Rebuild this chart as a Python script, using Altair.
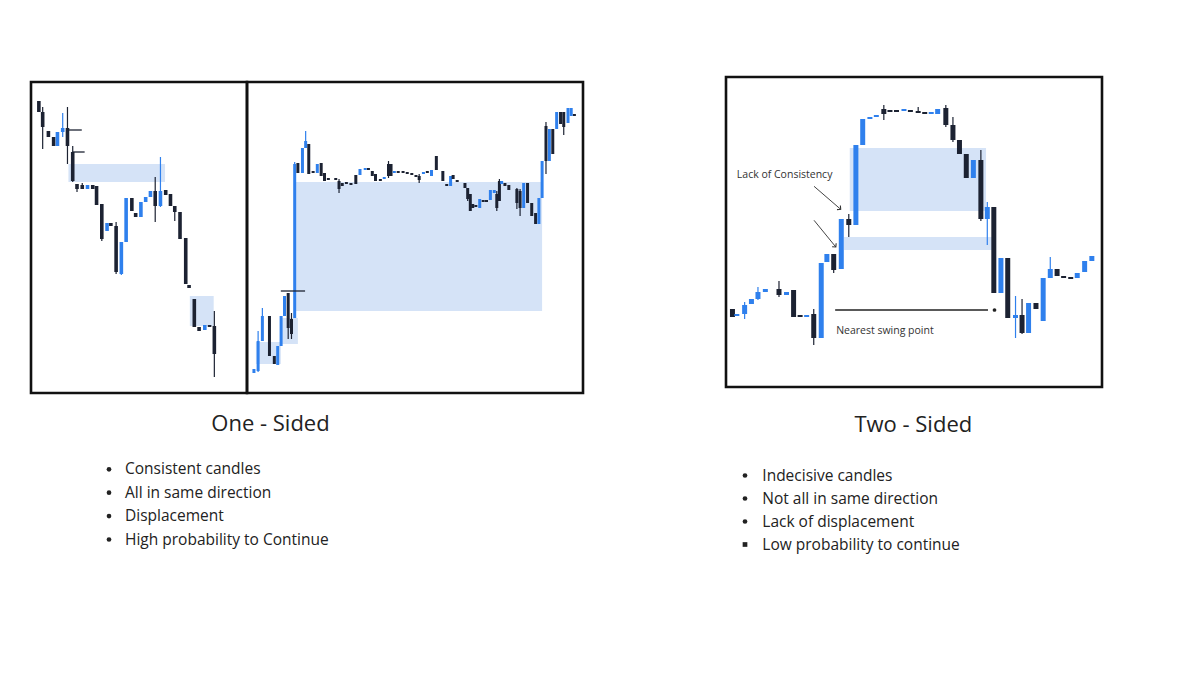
import altair as alt
import pandas as pd

# ---------------- colours & fonts ----------------
DARK = "#1c2232"
BLUE = "#2f80ed"
BOX = "#d5e3f7"
FRAME = "#111111"
INK = "#222222"
FONT = "Open Sans"

# ---------------- Panel A (one-sided, left) ----------------
A_T = [33, 37, 43, 48.5, 52.5, 58, 63, 68.5, 73, 78.5, 84, 89.5, 93.5, 99, 104.5, 108.5, 114, 119.5, 124.5, 130.5,
       134.5, 140, 145, 150, 155, 160.5, 166, 171, 175.5, 181, 187, 190.5, 196, 201, 207, 212, 217]
A_OPEN = [300, 289, 270, 264, 255, 269, 273, 249, 217, 216, 212, 216, 215, 197, 170, 178, 175, 127, 159, 203,
          188, 184, 199, 204, 210, 195, 211, 207, 195, 189, 163, 116, 102, 74, 71, 76, 75]
A_HIGH = [300, 294, 270, 264, 269, 288, 294, 255, 217, 218, 216, 216, 215, 197, 178, 178, 179, 159, 203, 203,
          188, 199, 204, 210, 224, 244, 211, 207, 195, 189, 163, 116, 102, 74, 76, 76, 90]
A_LOW = [289, 252, 264, 255, 255, 264, 237, 219, 209, 212, 212, 212, 196, 160, 170, 175, 127, 126, 159, 190,
         184, 184, 199, 204, 179, 194, 206, 195, 180, 162, 117, 113, 74, 70, 71, 74, 24]
A_CLOSE = [289, 274, 264, 255, 269, 273, 255, 220, 212, 212, 216, 212, 196, 162, 178, 175, 129, 159, 203, 190,
           184, 199, 204, 210, 195, 210, 206, 195, 189, 162, 117, 113, 74, 70, 76, 74, 47]
A_BOX_T0 = [64, 191.3]
A_BOX_T1 = [165.3, 216.3]
A_BOX_P0 = [219, 75]
A_BOX_P1 = [237, 105]
A_LVL_T0 = [63, 68.5]
A_LVL_T1 = [78, 81]
A_LVL_P = [271, 249]

# ---------------- Panel B (one-sided, right) ----------------
B_T = [248, 252.3, 256.7, 264, 269, 272.5, 276, 279.5, 283.3, 286.7,
       290, 293.3, 298, 301.3, 304.5, 309, 313.3, 317.3, 320.7, 324.7,
       332.3, 335.7, 339, 343.3, 348, 353, 357.3, 362.7, 366, 370,
       373.3, 378.3, 382.3, 386.7, 389.3, 392.7, 396.7, 401.7, 406, 410.7,
       415, 418.3, 422.7, 426.7, 431, 436, 442.7, 446.7, 450.7, 453.3,
       457.5, 465.5, 468.3, 471, 473.5, 476.7, 480.7, 484.3, 487.7, 491.7,
       495.7, 498.3, 501, 503.3, 506.7, 510.7, 519, 522.3, 526, 530,
       534.3, 538.3, 541.7, 545, 549, 552.5, 556, 560, 564, 567.3,
       571.7, 575, 578.3]
B_OPEN = [28, 30, 60, 85, 45, 36, 55, 85, 108, 82,
          83, 238, 228, 253, 257, 230, 228, 238, 228, 223,
          223, 220, 218, 219, 218, 226, 226, 231, 233, 230,
          227, 222, 222, 237, 237, 228, 230, 230, 229, 228,
          226, 225, 227, 230, 225, 245, 230, 217, 215, 226,
          221, 218, 213, 207, 197, 196, 193, 201, 201, 201,
          208, 207, 220, 217, 218, 216, 212, 210, 193, 218,
          198, 188, 177, 203, 275, 240, 272, 272, 289, 289,
          278, 285, 287]
B_HIGH = [32, 70, 93, 85, 45, 55, 85, 105, 108, 88,
          239, 238, 253, 270, 257, 230, 237, 238, 228, 223,
          223, 222, 218, 219, 218, 226, 232, 233, 233, 230,
          227, 222, 224, 240, 237, 230, 230, 230, 229, 228,
          226, 227, 229, 230, 231, 245, 230, 217, 225, 226,
          221, 218, 213, 207, 197, 196, 202, 201, 201, 211,
          211, 210, 222, 220, 218, 216, 213, 212, 218, 218,
          198, 188, 203, 240, 279, 272, 272, 289, 289, 289,
          293, 293, 287]
B_LOW = [28, 29, 60, 45, 37, 36, 55, 85, 62, 62,
         83, 228, 228, 253, 227, 228, 228, 225, 220, 221,
         221, 208, 215, 217, 216, 217, 226, 231, 231, 225,
         220, 220, 222, 223, 225, 228, 228, 228, 227, 226,
         224, 218, 227, 228, 225, 231, 220, 215, 215, 222,
         219, 213, 200, 190, 193, 194, 193, 199, 199, 201,
         208, 190, 200, 217, 215, 211, 192, 185, 193, 198,
         185, 177, 177, 203, 227, 240, 247, 272, 277, 266,
         278, 285, 285]
B_CLOSE = [32, 60, 85, 45, 37, 55, 85, 105, 73, 67,
           237, 228, 253, 260, 227, 228, 237, 225, 220, 221,
           221, 212, 215, 217, 216, 217, 232, 233, 231, 225,
           220, 220, 224, 225, 225, 230, 228, 228, 227, 226,
           224, 221, 229, 228, 231, 231, 220, 215, 225, 222,
           219, 213, 202, 190, 193, 194, 202, 199, 199, 211,
           211, 193, 200, 220, 215, 211, 198, 193, 218, 198,
           185, 177, 203, 240, 240, 272, 247, 289, 277, 274,
           293, 293, 285]
B_BOX_T0 = [290.7, 250, 275.7]
B_BOX_T1 = [545, 275.7, 293.3]
B_BOX_P0 = [90, 37, 57]
B_BOX_P1 = [219, 59, 83]
B_LVL_T0 = [275.7]
B_LVL_T1 = [300.7]
B_LVL_P = [110]

# ---------------- Panel C (two-sided) ----------------
C_T = [727.5, 732, 740, 747, 753.7, 761.3, 775.3, 783, 790.3, 797,
       803.7, 811, 818.7, 824.5, 831.5, 839.3, 847, 854.3, 861.3, 868.7,
       875.3, 883, 889.3, 896, 903.7, 910.3, 918.3, 925, 931.7, 938.3,
       946.7, 954, 960.7, 967.7, 975, 982.7, 989.3, 996, 1003.3, 1010.3,
       1018.3, 1025, 1031.7, 1039.3, 1046.7, 1054, 1061, 1067.7, 1075, 1081.7,
       1089.3, 1096.7]
C_OPEN = [91, 84, 86, 96, 101, 108, 111, 105, 110, 85,
          83, 86, 62, 138, 146, 131, 181, 175, 255, 281,
          283, 291, 290, 290, 289, 290, 289, 288, 286, 286,
          292, 275, 260, 246, 222, 240, 181, 193, 107, 142,
          82, 85, 67, 97, 79, 122, 131, 124, 123, 122,
          128, 139]
C_HIGH = [91, 86, 98, 101, 113, 111, 119, 108, 110, 85,
          85, 91, 137, 146, 146, 181, 186, 255, 281, 283,
          285, 295, 290, 290, 291, 290, 293, 288, 288, 291,
          295, 283, 260, 246, 240, 250, 198, 193, 142, 142,
          104, 101, 97, 97, 122, 143, 131, 124, 123, 127,
          139, 144]
C_LOW = [83, 84, 81, 96, 100, 108, 103, 105, 83, 83,
         83, 55, 62, 138, 127, 131, 163, 175, 255, 281,
         283, 280, 288, 288, 289, 288, 287, 286, 286, 286,
         273, 258, 246, 222, 222, 179, 155, 107, 107, 82,
         62, 66, 67, 91, 79, 122, 124, 122, 121, 122,
         128, 139]
C_CLOSE = [83, 86, 95, 101, 108, 111, 105, 108, 83, 83,
           85, 62, 137, 146, 130, 181, 175, 255, 281, 283,
           285, 286, 288, 288, 291, 288, 287, 286, 288, 291,
           275, 260, 246, 222, 240, 181, 193, 107, 142, 82,
           85, 67, 97, 91, 122, 131, 124, 122, 121, 127,
           139, 144]
C_BOX_T0 = [848, 842]
C_BOX_T1 = [988, 995]
C_BOX_P0 = [189, 150]
C_BOX_P1 = [252, 163]
C_SWING_T0 = [833]
C_SWING_T1 = [990]
C_SWING_P = [90]
C_SWING_DOT_T = [996.7]
C_ARROW_T0 = [811.3, 811.3]
C_ARROW_P0 = [213.7, 179.7]
C_ARROW_T1 = [838.7, 833.7]
C_ARROW_P1 = [190.7, 153]
C_NOTE_LABEL = ["Lack of Consistency", "Nearest swing point"]
C_NOTE_T = [732, 834]
C_NOTE_P = [222, 66]

# ---------------- text blocks ----------------
LEFT_TITLE = "One - Sided"
LEFT_BULLETS = ["Consistent candles", "All in same direction", "Displacement", "High probability to Continue"]
RIGHT_TITLE = "Two - Sided"
RIGHT_BULLETS = ["Indecisive candles", "Not all in same direction", "Lack of displacement", "Low probability to continue"]


def candle_df(t, o, h, l, c):
    return pd.DataFrame({"t": t, "open": o, "high": h, "low": l, "close": c})


def panel(cdf, boxes, levels, xdom, ydom, w, h, bw, extra=None):
    xs = alt.Scale(domain=xdom, nice=False, zero=False)
    ys = alt.Scale(domain=ydom, nice=False, zero=False)
    col = alt.Color("dir:N", scale=alt.Scale(domain=["up", "down"], range=[BLUE, DARK]), legend=None)
    base = alt.Chart(cdf).transform_calculate(dir="datum.close >= datum.open ? 'up' : 'down'")
    layers = [
        alt.Chart(boxes).mark_rect(color=BOX, clip=True).encode(
            x=alt.X("t0:Q", scale=xs, axis=None), x2="t1:Q",
            y=alt.Y("p0:Q", scale=ys, axis=None), y2="p1:Q"),
        base.mark_rule(strokeWidth=1.2, clip=True).encode(
            x=alt.X("t:Q", scale=xs, axis=None),
            y=alt.Y("low:Q", scale=ys, axis=None), y2="high:Q", color=col),
        base.mark_bar(size=bw, clip=True).encode(
            x=alt.X("t:Q", scale=xs, axis=None),
            y=alt.Y("open:Q", scale=ys, axis=None), y2="close:Q", color=col),
    ]
    if levels is not None:
        layers.append(alt.Chart(levels).mark_rule(color=DARK, strokeWidth=1.3, clip=True).encode(
            x=alt.X("t0:Q", scale=xs, axis=None), x2="t1:Q",
            y=alt.Y("p:Q", scale=ys, axis=None)))
    if extra:
        layers += extra(xs, ys)
    return alt.layer(*layers).properties(
        width=w, height=h, view=alt.ViewBackground(stroke=FRAME, strokeWidth=2.6))


def c_extras(xs, ys):
    arrows = pd.DataFrame({"t0": C_ARROW_T0, "p0": C_ARROW_P0, "t1": C_ARROW_T1, "p1": C_ARROW_P1})
    notes = pd.DataFrame({"label": C_NOTE_LABEL, "t": C_NOTE_T, "p": C_NOTE_P})
    swing = pd.DataFrame({"t0": C_SWING_T0, "t1": C_SWING_T1, "p": C_SWING_P, "td": C_SWING_DOT_T})
    return [
        alt.Chart(arrows).mark_rule(color="#444444", strokeWidth=1).encode(
            x=alt.X("t0:Q", scale=xs, axis=None), y=alt.Y("p0:Q", scale=ys, axis=None),
            x2="t1:Q", y2="p1:Q"),
        alt.Chart(arrows).transform_calculate(
            ang="atan2(datum.p0 - datum.p1, datum.t1 - datum.t0) * 180 / PI"
        ).mark_point(shape="M-1,-1L0,0L-1,1", filled=False, color="#333333", strokeWidth=1.1,
                     size=28, opacity=1).encode(
            x=alt.X("t1:Q", scale=xs, axis=None), y=alt.Y("p1:Q", scale=ys, axis=None),
            angle=alt.Angle("ang:Q", scale=None)),
        alt.Chart(swing).mark_rule(color=INK, strokeWidth=1.3).encode(
            x=alt.X("t0:Q", scale=xs, axis=None), x2="t1:Q", y=alt.Y("p:Q", scale=ys, axis=None)),
        alt.Chart(swing).mark_point(filled=True, color=INK, size=14, opacity=1).encode(
            x=alt.X("td:Q", scale=xs, axis=None), y=alt.Y("p:Q", scale=ys, axis=None)),
        alt.Chart(notes).mark_text(font=FONT, fontSize=10.5, color="#333333", align="left",
                                   baseline="alphabetic").encode(
            x=alt.X("t:Q", scale=xs, axis=None), y=alt.Y("p:Q", scale=ys, axis=None), text="label:N"),
    ]


def text_block(title, items, w, h, tx, ty, dot_x, text_x, y_first, y_last, square_last):
    df = pd.DataFrame({"i": list(range(len(items))), "label": items})
    ys = alt.Scale(domain=[0, len(items) - 1], range=[y_first, y_last])
    ttl = alt.Chart(pd.DataFrame({"label": [title]})).mark_text(
        font=FONT, fontSize=22, color=INK, align="center", baseline="alphabetic").encode(
        x=alt.value(tx), y=alt.value(ty), text="label:N")
    txt = alt.Chart(df).mark_text(font=FONT, fontSize=15.5, color=INK, align="left",
                                  baseline="alphabetic").encode(
        x=alt.value(text_x), y=alt.Y("i:Q", scale=ys, axis=None), text="label:N")
    if square_last:
        shp = alt.condition("datum.i == %d" % (len(items) - 1), alt.value("square"), alt.value("circle"))
    else:
        shp = alt.value("circle")
    dots = alt.Chart(df).mark_point(filled=True, color=INK, size=22, opacity=1, yOffset=-5).encode(
        x=alt.value(dot_x), y=alt.Y("i:Q", scale=ys, axis=None), shape=shp)
    return alt.layer(ttl, txt, dots).properties(width=w, height=h)


panel_a = panel(
    candle_df(A_T, A_OPEN, A_HIGH, A_LOW, A_CLOSE),
    pd.DataFrame({"t0": A_BOX_T0, "t1": A_BOX_T1, "p0": A_BOX_P0, "p1": A_BOX_P1}),
    pd.DataFrame({"t0": A_LVL_T0, "t1": A_LVL_T1, "p": A_LVL_P}),
    [30, 246], [8, 319], 216, 311, 3.6)

panel_b = panel(
    candle_df(B_T, B_OPEN, B_HIGH, B_LOW, B_CLOSE),
    pd.DataFrame({"t0": B_BOX_T0, "t1": B_BOX_T1, "p0": B_BOX_P0, "p1": B_BOX_P1}),
    pd.DataFrame({"t0": B_LVL_T0, "t1": B_LVL_T1, "p": B_LVL_P}),
    [246, 582], [8, 319], 336, 311, 3.0)

panel_c = panel(
    candle_df(C_T, C_OPEN, C_HIGH, C_LOW, C_CLOSE),
    pd.DataFrame({"t0": C_BOX_T0, "t1": C_BOX_T1, "p0": C_BOX_P0, "p1": C_BOX_P1}),
    None, [726, 1102], [13, 323], 376, 310, 5.0, extra=c_extras)

spacer = alt.Chart(pd.DataFrame({"v": [0]})).mark_point(opacity=0, size=1).encode(
    x=alt.value(1), y=alt.value(1)).properties(width=552, height=2)

text_left = text_block(LEFT_TITLE, LEFT_BULLETS, 552, 180, 239.5, 35, 78, 94, 78.3, 148.5, False)
text_right = text_block(RIGHT_TITLE, RIGHT_BULLETS, 376, 180, 187.3, 45.3, 19, 36.3, 93.5, 162.5, True)

left = alt.vconcat(
    spacer,
    alt.hconcat(panel_a, panel_b, spacing=0, bounds="flush"),
    text_left,
    spacing=0)
right = alt.vconcat(panel_c, text_right, spacing=0, bounds="flush")

chart = alt.hconcat(left, right, spacing=139).properties(
    padding={"left": 29, "top": 75, "right": 0, "bottom": 0},
    background="white",
).configure_view(stroke="transparent")

chart.save("out.html", embed_options={"renderer": "svg", "actions": False})
